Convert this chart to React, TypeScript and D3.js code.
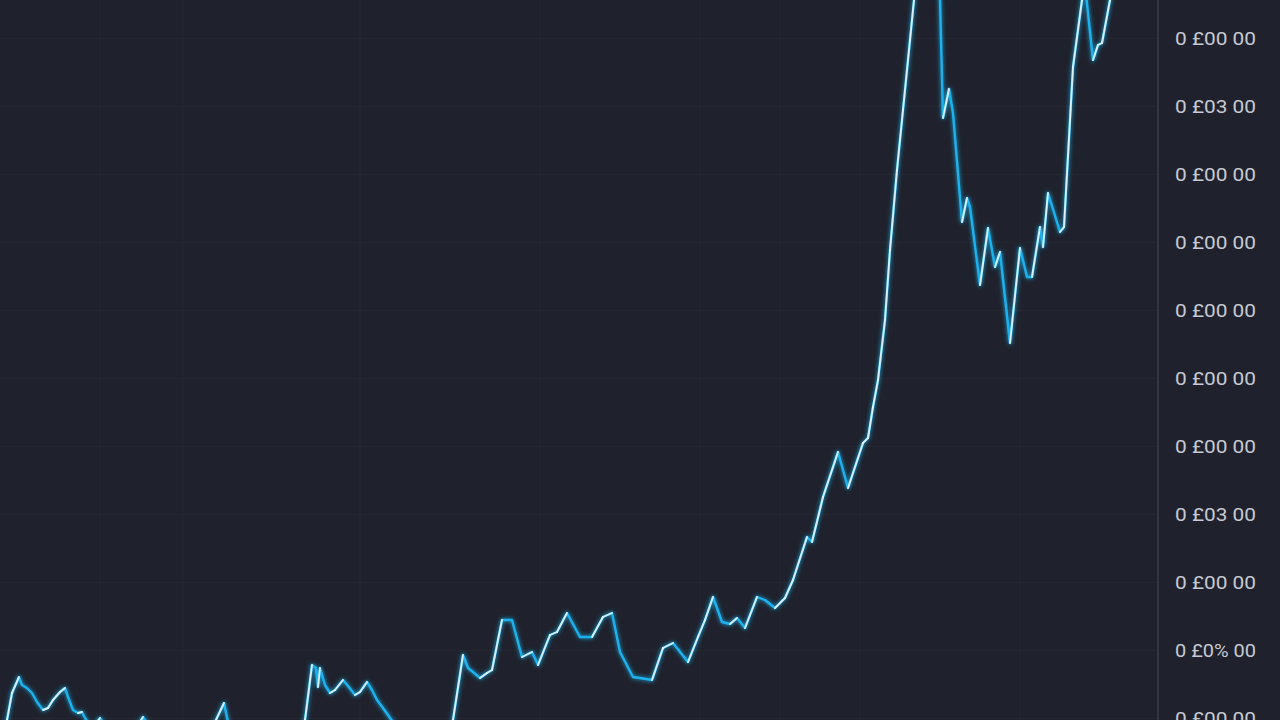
import React from "react";
import * as d3 from "d3";

const W = 1280;
const H = 720;

// x position (time index) and value of the traced series
const days = [
  0, 7, 12, 19, 22, 27, 32, 37, 43, 48, 53, 60, 65, 68, 73, 78, 82, 85, 92, 100,
  106, 120, 138, 143, 150, 170, 200, 215, 224, 228, 235, 270, 300, 305, 312, 316, 318, 320, 325, 330,
  335, 343, 348, 355, 360, 367, 372, 377, 383, 388, 395, 420, 445, 453, 463, 468, 473, 480, 487, 492,
  502, 512, 522, 532, 538, 550, 557, 567, 580, 592, 603, 612, 620, 633, 640, 652, 663, 673, 688, 698,
  705, 713, 722, 730, 737, 745, 757, 765, 775, 785, 793, 807, 812, 823, 838, 848, 858, 863, 868, 873,
  878, 885, 890, 897, 903, 910, 914, 922, 932, 940, 943, 949, 953, 962, 967, 970, 980, 988, 995, 1000,
  1010, 1020, 1027, 1032, 1040, 1043, 1048, 1060, 1064, 1073, 1082, 1085, 1093, 1098, 1102, 1110, 1116,
];
const values = [
  -17, -2, 25, 41, 33, 30, 25, 16, 8, 10, 18, 26, 30, 21, 8, 5, 6, 0, -10, 0,
  -9, -17, -7, 1, -10, -22, -17, -4, 15, -4, -20, -27, -12, -2, 53, 50, 31, 50, 33, 25,
  28, 38, 32, 23, 26, 36, 28, 18, 10, 3, -7, -27, -20, -2, 63, 50, 46, 40, 45, 48,
  98, 98, 61, 66, 53, 83, 86, 105, 81, 81, 101, 105, 66, 41, 40, 38, 70, 75, 56, 81,
  98, 121, 96, 94, 100, 90, 121, 118, 110, 120, 138, 181, 176, 221, 266, 230, 260, 275, 280, 311,
  338, 398, 468, 548, 608, 678, 718, 768, 758, 718, 600, 629, 605, 496, 520, 511, 433, 490, 451, 466,
  375, 470, 441, 441, 491, 471, 525, 486, 491, 651, 718, 733, 658, 673, 675, 718, 743,
];

const tickValues = [680, 612, 544, 476, 408, 340, 272, 204, 136, 68, 0];
const tickLabels = [
  "0 £00 00", "0 £03 00", "0 £00 00", "0 £00 00", "0 £00 00", "0 £00 00",
  "0 £00 00", "0 £03 00", "0 £00 00", "0 £0% 00", "0 £00 00",
];
const vGrid = [100, 183, 360, 540, 700, 780, 860, 1020];

export default function App() {
  const plotRight = 1158;
  const x = d3.scaleLinear().domain([0, 1160]).range([0, 1160]);
  const y = d3.scaleLinear().domain([0, 680]).range([718, 38]);

  const pts: [number, number][] = days.map((d, i) => [x(d), y(values[i])]);
  const line = d3.line<[number, number]>().x((p) => p[0]).y((p) => p[1]);
  const full = line(pts) || "";

  const rising: string[] = [];
  for (let i = 1; i < pts.length; i++) {
    if (values[i] > values[i - 1]) rising.push(line([pts[i - 1], pts[i]]) || "");
  }

  return (
    <svg
      width={W}
      height={H}
      style={{ position: "fixed", left: 0, top: 0, background: "#1f222d" }}
    >
      <defs>
        <filter id="glow" x="-20%" y="-20%" width="140%" height="140%">
          <feGaussianBlur stdDeviation="2.2" result="b" />
          <feMerge>
            <feMergeNode in="b" />
            <feMergeNode in="SourceGraphic" />
          </feMerge>
        </filter>
        <clipPath id="plot">
          <rect x={0} y={0} width={plotRight} height={H} />
        </clipPath>
      </defs>
      <rect x={0} y={0} width={W} height={H} fill="#1f222d" />
      <g>
        {vGrid.map((g, i) => (
          <line key={i} x1={x(g)} x2={x(g)} y1={0} y2={H} stroke="#ffffff" strokeOpacity={0.018} strokeWidth={1.5} />
        ))}
        {tickValues.map((t, i) => (
          <line key={i} x1={0} x2={plotRight} y1={y(t) + 0.5} y2={y(t) + 0.5} stroke="#ffffff" strokeOpacity={0.025} strokeWidth={1.5} />
        ))}
      </g>
      <g clipPath="url(#plot)">
        <path d={full} fill="none" stroke="#1fb2ee" strokeWidth={2.4} strokeLinejoin="round" filter="url(#glow)" />
        {rising.map((d, i) => (
          <path key={i} d={d} fill="none" stroke="#e8f3f8" strokeWidth={1.9} strokeLinecap="round" strokeOpacity={0.92} />
        ))}
      </g>
      <line x1={plotRight} x2={plotRight} y1={0} y2={H} stroke="#3a3e4b" strokeWidth={1.5} />
      <g>
        {tickValues.map((t, i) => (
          <text
            key={i}
            x={1175}
            y={y(t)}
            dominantBaseline="central"
            fontFamily="Roboto, 'DejaVu Sans', sans-serif"
            fontSize={19}
            textLength={81}
            lengthAdjust="spacingAndGlyphs"
            fill="#c6cad2"
          >
            {tickLabels[i]}
          </text>
        ))}
      </g>
    </svg>
  );
}
